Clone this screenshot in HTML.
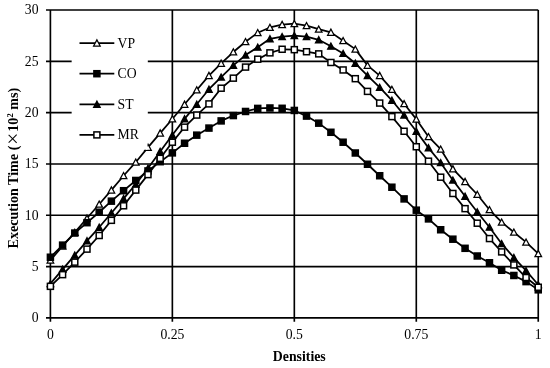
<!DOCTYPE html>
<html><head><meta charset="utf-8"><title>Execution Time vs Densities</title>
<style>
html,body{margin:0;padding:0;background:#fff;}
body{width:550px;height:368px;overflow:hidden;}
svg{display:block;}
.t{font-family:"Liberation Serif","Times New Roman",serif;font-size:13.7px;fill:#000;}
.x{font-family:"IPAGothic","Noto Sans CJK SC",sans-serif;font-weight:normal;font-size:14px;}
.b{font-family:"Liberation Serif","Times New Roman",serif;font-size:14.1px;font-weight:bold;fill:#000;}
</style></head><body>
<svg width="550" height="368" viewBox="0 0 550 368">
<rect width="550" height="368" fill="#fff"/>
<defs>
<polygon id="to" points="0,-3.2 -3.3,2.95 3.3,2.95" fill="#fff" stroke="#000" stroke-width="1.25"/>
<polygon id="tf" points="0,-3.0 -3.15,2.95 3.15,2.95" fill="#000" stroke="#000" stroke-width="1.4"/>
<rect id="so" x="-3" y="-3" width="6" height="6" fill="#fff" stroke="#000" stroke-width="1.5"/>
<rect id="sf" x="-3" y="-3" width="6" height="6" fill="#000" stroke="#000" stroke-width="1.5"/>
</defs>
<g stroke="#000" stroke-width="1.65" fill="none">
<line x1="46.00" y1="317.90" x2="538.25" y2="317.90"/>
<line x1="46.00" y1="266.58" x2="538.25" y2="266.58"/>
<line x1="46.00" y1="215.27" x2="538.25" y2="215.27"/>
<line x1="46.00" y1="163.95" x2="538.25" y2="163.95"/>
<line x1="46.00" y1="112.63" x2="538.25" y2="112.63"/>
<line x1="46.00" y1="61.32" x2="538.25" y2="61.32"/>
<line x1="46.00" y1="10.00" x2="538.25" y2="10.00"/>
<line x1="50.40" y1="10.00" x2="50.40" y2="321.70"/>
<line x1="172.36" y1="10.00" x2="172.36" y2="321.70"/>
<line x1="294.32" y1="10.00" x2="294.32" y2="321.70"/>
<line x1="416.29" y1="10.00" x2="416.29" y2="321.70"/>
<line x1="538.25" y1="10.00" x2="538.25" y2="321.70"/>
</g>
<rect x="71.8" y="27" width="75.8" height="122.6" fill="#fff"/>
<polyline points="50.40,260.10 62.60,246.26 74.79,232.43 86.99,218.28 99.19,204.24 111.38,190.09 123.58,175.74 135.77,162.21 147.97,147.35 160.17,133.10 172.36,118.96 184.56,104.30 196.76,89.95 208.95,75.60 221.15,63.30 233.34,52.02 245.54,41.77 257.74,32.75 269.93,27.43 282.13,24.56 294.32,23.73 306.52,25.68 318.72,29.17 330.91,32.35 343.11,40.75 355.31,49.15 367.50,65.35 379.70,75.60 391.89,89.44 404.09,103.79 416.29,119.16 428.48,136.69 440.68,149.19 452.88,168.88 465.07,181.59 477.27,194.50 489.47,209.77 501.66,222.18 513.86,232.22 526.05,242.16 538.25,253.64" fill="none" stroke="#000" stroke-width="1.75" stroke-linejoin="round"/>
<use href="#to" x="50.40" y="260.10"/>
<use href="#to" x="62.60" y="246.26"/>
<use href="#to" x="74.79" y="232.43"/>
<use href="#to" x="86.99" y="218.28"/>
<use href="#to" x="99.19" y="204.24"/>
<use href="#to" x="111.38" y="190.09"/>
<use href="#to" x="123.58" y="175.74"/>
<use href="#to" x="135.77" y="162.21"/>
<use href="#to" x="147.97" y="147.35"/>
<use href="#to" x="160.17" y="133.10"/>
<use href="#to" x="172.36" y="118.96"/>
<use href="#to" x="184.56" y="104.30"/>
<use href="#to" x="196.76" y="89.95"/>
<use href="#to" x="208.95" y="75.60"/>
<use href="#to" x="221.15" y="63.30"/>
<use href="#to" x="233.34" y="52.02"/>
<use href="#to" x="245.54" y="41.77"/>
<use href="#to" x="257.74" y="32.75"/>
<use href="#to" x="269.93" y="27.43"/>
<use href="#to" x="282.13" y="24.56"/>
<use href="#to" x="294.32" y="23.73"/>
<use href="#to" x="306.52" y="25.68"/>
<use href="#to" x="318.72" y="29.17"/>
<use href="#to" x="330.91" y="32.35"/>
<use href="#to" x="343.11" y="40.75"/>
<use href="#to" x="355.31" y="49.15"/>
<use href="#to" x="367.50" y="65.35"/>
<use href="#to" x="379.70" y="75.60"/>
<use href="#to" x="391.89" y="89.44"/>
<use href="#to" x="404.09" y="103.79"/>
<use href="#to" x="416.29" y="119.16"/>
<use href="#to" x="428.48" y="136.69"/>
<use href="#to" x="440.68" y="149.19"/>
<use href="#to" x="452.88" y="168.88"/>
<use href="#to" x="465.07" y="181.59"/>
<use href="#to" x="477.27" y="194.50"/>
<use href="#to" x="489.47" y="209.77"/>
<use href="#to" x="501.66" y="222.18"/>
<use href="#to" x="513.86" y="232.22"/>
<use href="#to" x="526.05" y="242.16"/>
<use href="#to" x="538.25" y="253.64"/>
<polyline points="50.40,257.23 62.60,245.13 74.79,233.04 86.99,222.69 99.19,212.23 111.38,201.16 123.58,190.71 135.77,180.46 147.97,170.93 160.17,161.70 172.36,152.89 184.56,143.25 196.76,135.15 208.95,128.08 221.15,120.91 233.34,115.57 245.54,111.47 257.74,108.40 269.93,107.99 282.13,108.30 294.32,110.45 306.52,116.09 318.72,123.16 330.91,132.28 343.11,142.22 355.31,152.99 367.50,164.26 379.70,175.74 391.89,187.22 404.09,198.91 416.29,210.18 428.48,218.90 440.68,229.76 452.88,239.19 465.07,248.31 477.27,256.00 489.47,262.76 501.66,270.25 513.86,275.48 526.05,281.62 538.25,289.82" fill="none" stroke="#000" stroke-width="1.75" stroke-linejoin="round"/>
<use href="#sf" x="50.40" y="257.23"/>
<use href="#sf" x="62.60" y="245.13"/>
<use href="#sf" x="74.79" y="233.04"/>
<use href="#sf" x="86.99" y="222.69"/>
<use href="#sf" x="99.19" y="212.23"/>
<use href="#sf" x="111.38" y="201.16"/>
<use href="#sf" x="123.58" y="190.71"/>
<use href="#sf" x="135.77" y="180.46"/>
<use href="#sf" x="147.97" y="170.93"/>
<use href="#sf" x="160.17" y="161.70"/>
<use href="#sf" x="172.36" y="152.89"/>
<use href="#sf" x="184.56" y="143.25"/>
<use href="#sf" x="196.76" y="135.15"/>
<use href="#sf" x="208.95" y="128.08"/>
<use href="#sf" x="221.15" y="120.91"/>
<use href="#sf" x="233.34" y="115.57"/>
<use href="#sf" x="245.54" y="111.47"/>
<use href="#sf" x="257.74" y="108.40"/>
<use href="#sf" x="269.93" y="107.99"/>
<use href="#sf" x="282.13" y="108.30"/>
<use href="#sf" x="294.32" y="110.45"/>
<use href="#sf" x="306.52" y="116.09"/>
<use href="#sf" x="318.72" y="123.16"/>
<use href="#sf" x="330.91" y="132.28"/>
<use href="#sf" x="343.11" y="142.22"/>
<use href="#sf" x="355.31" y="152.99"/>
<use href="#sf" x="367.50" y="164.26"/>
<use href="#sf" x="379.70" y="175.74"/>
<use href="#sf" x="391.89" y="187.22"/>
<use href="#sf" x="404.09" y="198.91"/>
<use href="#sf" x="416.29" y="210.18"/>
<use href="#sf" x="428.48" y="218.90"/>
<use href="#sf" x="440.68" y="229.76"/>
<use href="#sf" x="452.88" y="239.19"/>
<use href="#sf" x="465.07" y="248.31"/>
<use href="#sf" x="477.27" y="256.00"/>
<use href="#sf" x="489.47" y="262.76"/>
<use href="#sf" x="501.66" y="270.25"/>
<use href="#sf" x="513.86" y="275.48"/>
<use href="#sf" x="526.05" y="281.62"/>
<use href="#sf" x="538.25" y="289.82"/>
<polyline points="50.40,283.68 62.60,269.32 74.79,255.18 86.99,240.83 99.19,227.30 111.38,212.95 123.58,198.60 135.77,184.25 147.97,168.36 160.17,151.45 172.36,135.05 184.56,118.86 196.76,104.30 208.95,89.23 221.15,77.14 233.34,65.35 245.54,55.10 257.74,47.21 269.93,38.80 282.13,36.65 294.32,35.62 306.52,36.65 318.72,39.83 330.91,46.18 343.11,53.46 355.31,63.30 367.50,75.60 379.70,87.39 391.89,100.30 404.09,115.17 416.29,131.26 428.48,147.86 440.68,162.72 452.88,180.15 465.07,196.34 477.27,211.93 489.47,227.20 501.66,243.70 513.86,257.54 526.05,270.66 538.25,284.70" fill="none" stroke="#000" stroke-width="1.75" stroke-linejoin="round"/>
<use href="#tf" x="50.40" y="283.68"/>
<use href="#tf" x="62.60" y="269.32"/>
<use href="#tf" x="74.79" y="255.18"/>
<use href="#tf" x="86.99" y="240.83"/>
<use href="#tf" x="99.19" y="227.30"/>
<use href="#tf" x="111.38" y="212.95"/>
<use href="#tf" x="123.58" y="198.60"/>
<use href="#tf" x="135.77" y="184.25"/>
<use href="#tf" x="147.97" y="168.36"/>
<use href="#tf" x="160.17" y="151.45"/>
<use href="#tf" x="172.36" y="135.05"/>
<use href="#tf" x="184.56" y="118.86"/>
<use href="#tf" x="196.76" y="104.30"/>
<use href="#tf" x="208.95" y="89.23"/>
<use href="#tf" x="221.15" y="77.14"/>
<use href="#tf" x="233.34" y="65.35"/>
<use href="#tf" x="245.54" y="55.10"/>
<use href="#tf" x="257.74" y="47.21"/>
<use href="#tf" x="269.93" y="38.80"/>
<use href="#tf" x="282.13" y="36.65"/>
<use href="#tf" x="294.32" y="35.62"/>
<use href="#tf" x="306.52" y="36.65"/>
<use href="#tf" x="318.72" y="39.83"/>
<use href="#tf" x="330.91" y="46.18"/>
<use href="#tf" x="343.11" y="53.46"/>
<use href="#tf" x="355.31" y="63.30"/>
<use href="#tf" x="367.50" y="75.60"/>
<use href="#tf" x="379.70" y="87.39"/>
<use href="#tf" x="391.89" y="100.30"/>
<use href="#tf" x="404.09" y="115.17"/>
<use href="#tf" x="416.29" y="131.26"/>
<use href="#tf" x="428.48" y="147.86"/>
<use href="#tf" x="440.68" y="162.72"/>
<use href="#tf" x="452.88" y="180.15"/>
<use href="#tf" x="465.07" y="196.34"/>
<use href="#tf" x="477.27" y="211.93"/>
<use href="#tf" x="489.47" y="227.20"/>
<use href="#tf" x="501.66" y="243.70"/>
<use href="#tf" x="513.86" y="257.54"/>
<use href="#tf" x="526.05" y="270.66"/>
<use href="#tf" x="538.25" y="284.70"/>
<polyline points="50.40,286.34 62.60,274.65 74.79,262.15 86.99,249.13 99.19,235.50 111.38,220.33 123.58,205.78 135.77,190.09 147.97,174.61 160.17,158.32 172.36,142.22 184.56,127.16 196.76,115.06 208.95,103.89 221.15,88.21 233.34,78.16 245.54,67.09 257.74,59.20 269.93,52.85 282.13,49.26 294.32,49.67 306.52,51.72 318.72,53.87 330.91,62.48 343.11,69.96 355.31,78.68 367.50,91.39 379.70,103.07 391.89,116.60 404.09,131.26 416.29,146.74 428.48,161.19 440.68,177.18 452.88,193.47 465.07,208.65 477.27,223.20 489.47,238.57 501.66,251.90 513.86,264.92 526.05,277.52 538.25,287.26" fill="none" stroke="#000" stroke-width="1.75" stroke-linejoin="round"/>
<use href="#so" x="50.40" y="286.34"/>
<use href="#so" x="62.60" y="274.65"/>
<use href="#so" x="74.79" y="262.15"/>
<use href="#so" x="86.99" y="249.13"/>
<use href="#so" x="99.19" y="235.50"/>
<use href="#so" x="111.38" y="220.33"/>
<use href="#so" x="123.58" y="205.78"/>
<use href="#so" x="135.77" y="190.09"/>
<use href="#so" x="147.97" y="174.61"/>
<use href="#so" x="160.17" y="158.32"/>
<use href="#so" x="172.36" y="142.22"/>
<use href="#so" x="184.56" y="127.16"/>
<use href="#so" x="196.76" y="115.06"/>
<use href="#so" x="208.95" y="103.89"/>
<use href="#so" x="221.15" y="88.21"/>
<use href="#so" x="233.34" y="78.16"/>
<use href="#so" x="245.54" y="67.09"/>
<use href="#so" x="257.74" y="59.20"/>
<use href="#so" x="269.93" y="52.85"/>
<use href="#so" x="282.13" y="49.26"/>
<use href="#so" x="294.32" y="49.67"/>
<use href="#so" x="306.52" y="51.72"/>
<use href="#so" x="318.72" y="53.87"/>
<use href="#so" x="330.91" y="62.48"/>
<use href="#so" x="343.11" y="69.96"/>
<use href="#so" x="355.31" y="78.68"/>
<use href="#so" x="367.50" y="91.39"/>
<use href="#so" x="379.70" y="103.07"/>
<use href="#so" x="391.89" y="116.60"/>
<use href="#so" x="404.09" y="131.26"/>
<use href="#so" x="416.29" y="146.74"/>
<use href="#so" x="428.48" y="161.19"/>
<use href="#so" x="440.68" y="177.18"/>
<use href="#so" x="452.88" y="193.47"/>
<use href="#so" x="465.07" y="208.65"/>
<use href="#so" x="477.27" y="223.20"/>
<use href="#so" x="489.47" y="238.57"/>
<use href="#so" x="501.66" y="251.90"/>
<use href="#so" x="513.86" y="264.92"/>
<use href="#so" x="526.05" y="277.52"/>
<use href="#so" x="538.25" y="287.26"/>
<rect x="71.8" y="27" width="75.7" height="122.7" fill="#fff"/>
<line x1="79.5" y1="43.1" x2="114.3" y2="43.1" stroke="#000" stroke-width="1.75"/>
<use href="#to" x="96.9" y="43.1"/>
<text x="117.6" y="47.5" class="t">VP</text>
<line x1="79.5" y1="73.7" x2="114.3" y2="73.7" stroke="#000" stroke-width="1.75"/>
<use href="#sf" x="96.9" y="73.7"/>
<text x="117.6" y="78.1" class="t">CO</text>
<line x1="79.5" y1="104.3" x2="114.3" y2="104.3" stroke="#000" stroke-width="1.75"/>
<use href="#tf" x="96.9" y="104.3"/>
<text x="117.6" y="108.7" class="t">ST</text>
<line x1="79.5" y1="134.9" x2="114.3" y2="134.9" stroke="#000" stroke-width="1.75"/>
<use href="#so" x="96.9" y="134.9"/>
<text x="117.6" y="139.3" class="t">MR</text>
<text x="38.5" y="322.20" text-anchor="end" class="t">0</text>
<text x="38.5" y="270.88" text-anchor="end" class="t">5</text>
<text x="38.5" y="219.57" text-anchor="end" class="t">10</text>
<text x="38.5" y="168.25" text-anchor="end" class="t">15</text>
<text x="38.5" y="116.93" text-anchor="end" class="t">20</text>
<text x="38.5" y="65.62" text-anchor="end" class="t">25</text>
<text x="38.5" y="14.30" text-anchor="end" class="t">30</text>
<text x="50.40" y="338.6" text-anchor="middle" class="t">0</text>
<text x="172.36" y="338.6" text-anchor="middle" class="t">0.25</text>
<text x="294.32" y="338.6" text-anchor="middle" class="t">0.5</text>
<text x="416.29" y="338.6" text-anchor="middle" class="t">0.75</text>
<text x="538.25" y="338.6" text-anchor="middle" class="t">1</text>
<text x="299.3" y="361.2" text-anchor="middle" class="b" style="font-size:13.8px">Densities</text>
<text transform="translate(18 168.2) rotate(-90)" text-anchor="middle" class="b">Execution Time (<tspan class="x">×</tspan>10<tspan dy="-5.3" font-size="8.5">2</tspan><tspan dy="5.3"> ms)</tspan></text>
</svg>
</body></html>
